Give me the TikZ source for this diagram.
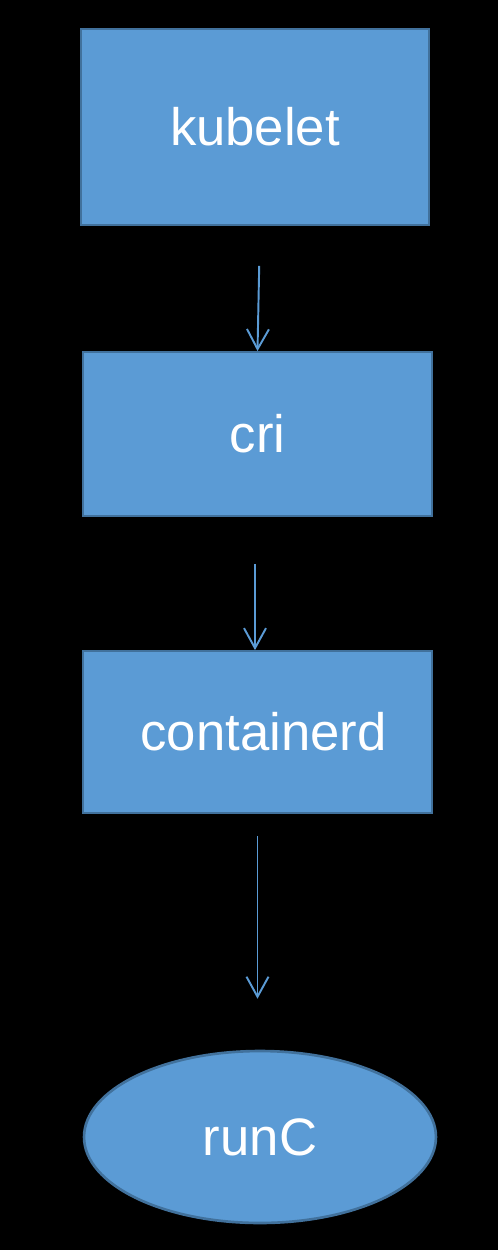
\documentclass[tikz,border=0pt]{standalone}
\usepackage{fontspec}
\setmainfont{Liberation Sans}
\usetikzlibrary{arrows.meta,positioning,shapes.geometric}
\definecolor{boxblue}{HTML}{5B9BD5}
\definecolor{boxedge}{HTML}{41719C}
\tikzset{
  bx/.style={align=center, text=white, font=\fontsize{30}{36}\selectfont, inner sep=0pt},
  stage/.style={bx, draw=boxedge, line width=1pt, fill=boxblue},
  endpt/.style={bx, ellipse, draw=boxedge, line width=1.5pt, fill=boxblue},
  arr/.style={-{Straight Barb[length=4mm, width=4.4mm, line width=1.1pt]}, line width=1.1pt, color=boxblue},
}
\begin{document}
\begin{tikzpicture}[x=0.02cm, y=-0.02cm]
    \fill[black] (0,0) rectangle (498,1250);
    \useasboundingbox (0,0) rectangle (498,1250);
    % boxes
    \node[stage, minimum width=6.96cm, minimum height=3.92cm] (kubelet) at (255,127) {kubelet};
    \node[stage, minimum width=6.98cm, minimum height=3.28cm] (cri) at (257.5,434) {cri};
    \node[stage, minimum width=6.98cm, minimum height=3.24cm] (containerd) at (257.5,732) {\hspace{0.24cm}containerd};
    \node[endpt, minimum width=7.04cm, minimum height=3.44cm] (runc) at (260,1137) {runC};
    % arrows
    \draw[arr, shorten <=0.8cm] (kubelet.south) ++(5,0) coordinate (k0) (k0) -- (cri.north);
    \draw[arr, shorten <=0.94cm] (cri.south) ++(-2.5,0) coordinate (c0) (c0) -- (containerd.north -| c0);
    \draw[arr, shorten <=0.44cm, shorten >=1.02cm] (containerd.south) -- (runc.north -| containerd.south);
\end{tikzpicture}
\end{document}
